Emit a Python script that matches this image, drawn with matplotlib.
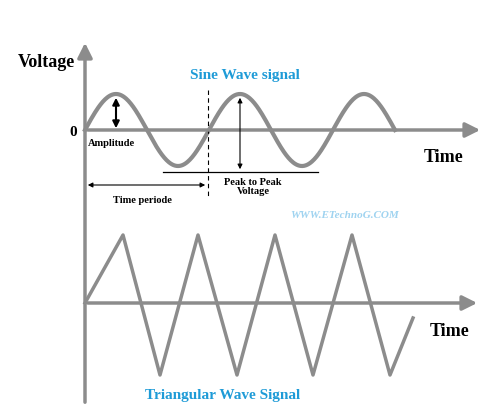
import matplotlib.pyplot as plt
import numpy as np

# geometry in picture pixels (y grows downward)
SINE_BASE = 130
SINE_AMP = 36
SINE_START = 85
SINE_PERIOD = 124
SINE_CYCLES = 2.5

TRI_X = [85, 123, 160, 198, 237, 275, 313, 352, 390, 413]
TRI_Y = [303, 235, 375, 235, 375, 235, 375, 235, 375, 318]

GRAY = "#8c8c8c"
BLUE = "#1e9bd7"
FONT = ["Liberation Serif", "DejaVu Serif"]

fig = plt.figure(figsize=(5.03, 4.17), dpi=100)
ax = fig.add_axes([0, 0, 1, 1])
ax.set_xlim(0, 503)
ax.set_ylim(417, 0)
ax.axis("off")

arrow_kw = dict(arrowstyle="-|>", color=GRAY, lw=2.5, mutation_scale=22)
# axes
ax.annotate("", xy=(85, 40), xytext=(85, 405), arrowprops=arrow_kw)
ax.annotate("", xy=(483, SINE_BASE), xytext=(85, SINE_BASE), arrowprops=arrow_kw)
ax.annotate("", xy=(480, 303), xytext=(85, 303), arrowprops=arrow_kw)

# sine wave
t = np.linspace(0, SINE_CYCLES * SINE_PERIOD, 400)
ax.plot(SINE_START + t, SINE_BASE - SINE_AMP * np.sin(2 * np.pi * t / SINE_PERIOD),
        color=GRAY, lw=3)

# triangular wave
ax.plot(TRI_X, TRI_Y, color=GRAY, lw=2.5)

# annotations
dbl = dict(arrowstyle="<|-|>", color="black", lw=1.5, mutation_scale=10)
thin = dict(arrowstyle="<|-|>", color="black", lw=0.8, mutation_scale=7)
ax.annotate("", xy=(116, 95), xytext=(116, 131), arrowprops=dbl)
ax.plot([208, 208], [90, 197], color="black", lw=0.8, ls=(0, (4, 3)))
ax.plot([163, 318], [172, 172], color="black", lw=0.9)
ax.annotate("", xy=(240, 95), xytext=(240, 172), arrowprops=thin)
ax.annotate("", xy=(85, 185), xytext=(208, 185), arrowprops=thin)

# texts
bold = dict(family=FONT, fontweight="bold")
ax.text(18, 62, "Voltage", fontsize=13, va="center", **bold)
ax.text(69, 133, "0", fontsize=11, va="center", **bold)
ax.text(424, 157, "Time", fontsize=13, va="center", **bold)
ax.text(430, 331, "Time", fontsize=13, va="center", **bold)
ax.text(190, 75, "Sine Wave signal", fontsize=11, color=BLUE, va="center", **bold)
ax.text(145, 396, "Triangular Wave Signal", fontsize=11, color=BLUE, va="center", **bold)
ax.text(88, 144, "Amplitude", fontsize=7.5, va="center", **bold)
ax.text(113, 200, "Time periode", fontsize=7.5, va="center", **bold)
ax.text(253, 187, "Peak to Peak\nVoltage", fontsize=7.5, ha="center", va="center",
        linespacing=1.1, **bold)
ax.text(290, 215, "WWW.ETechnoG.COM", fontsize=8, color="#9fd3f0", va="center",
        fontstyle="italic", **bold)

fig.savefig("out.png", dpi=100)
